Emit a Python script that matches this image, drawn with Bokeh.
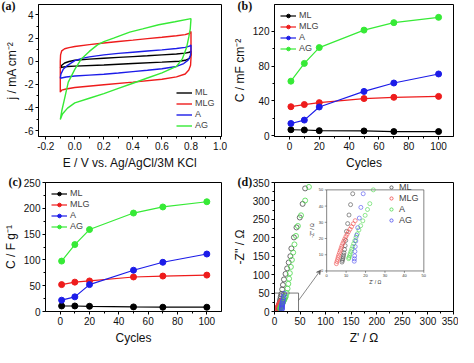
import math
from bokeh.plotting import figure
from bokeh.layouts import column, row
from bokeh.models import FixedTicker, Range1d, Title, Arrow, VeeHead
from bokeh.core.properties import value
from bokeh.embed import file_html
from bokeh.resources import INLINE

series = ["ML", "MLG", "A", "AG"]

# ---------------- (a) cyclic voltammograms ----------------
cv_ml_E = [-0.1, -0.09, -0.07, -0.04, 0.0, 0.1, 0.2, 0.3, 0.4, 0.5, 0.6, 0.7, 0.76, 0.79, 0.8,
           0.8, 0.79, 0.76, 0.72, 0.6, 0.4, 0.2, 0.0, -0.05, -0.09, -0.1]
cv_ml_j = [-0.59, -0.35, -0.15, -0.02, 0.08, 0.18, 0.26, 0.33, 0.4, 0.47, 0.55, 0.63, 0.7, 0.78, 0.88,
           0.55, 0.25, 0.08, 0.0, -0.08, -0.2, -0.32, -0.42, -0.46, -0.52, -0.59]
cv_mlg_E = [-0.1, -0.1, -0.1, -0.098, -0.09, -0.07, -0.04, 0.0, 0.1, 0.2, 0.3, 0.4, 0.5, 0.6, 0.7, 0.76, 0.79, 0.8,
            0.8, 0.8, 0.797, 0.785, 0.76, 0.7, 0.6, 0.4, 0.2, 0.0, -0.06, -0.09, -0.1]
cv_mlg_j = [-2.67, -1.5, 0.0, 0.55, 0.9, 1.08, 1.18, 1.27, 1.43, 1.57, 1.7, 1.82, 1.95, 2.07, 2.2, 2.3, 2.42, 2.57,
            1.5, 0.3, -0.35, -0.75, -1.1, -1.35, -1.55, -1.8, -2.03, -2.27, -2.4, -2.5, -2.67]
cv_a_E = [-0.1, -0.095, -0.08, -0.05, 0.0, 0.05, 0.1, 0.2, 0.3, 0.4, 0.5, 0.6, 0.7, 0.76, 0.79, 0.8,
          0.8, 0.795, 0.78, 0.75, 0.7, 0.6, 0.5, 0.4, 0.3, 0.2, 0.1, 0.0, -0.06, -0.1]
cv_a_j = [-1.47, -1.1, -0.7, -0.35, 0.05, 0.25, 0.38, 0.55, 0.68, 0.78, 0.88, 0.98, 1.1, 1.2, 1.3, 1.41,
          0.9, 0.45, 0.1, -0.2, -0.45, -0.65, -0.78, -0.9, -1.02, -1.12, -1.2, -1.28, -1.36, -1.47]
cv_ag_E = [-0.1, -0.09, -0.07, -0.045, 0.0, 0.045, 0.1, 0.156, 0.2, 0.267, 0.378, 0.467, 0.578, 0.689, 0.8,
           0.795, 0.785, 0.77, 0.74, 0.7, 0.6, 0.5, 0.4, 0.3, 0.2, 0.1, 0.0, -0.05, -0.085, -0.1]
cv_ag_j = [-5.04, -4.3, -3.2, -1.8, -0.7, 0.2, 0.85, 1.41, 1.7, 1.99, 2.52, 2.79, 3.15, 3.41, 3.68,
           2.8, 2.1, 1.2, 0.2, -0.45, -1.0, -1.45, -1.9, -2.35, -2.8, -3.2, -3.6, -4.05, -4.55, -5.04]

# ---------------- (b), (c) capacitance vs cycles ----------------
cycles = [1, 10, 20, 50, 70, 100]
b_ml = [6.8, 6.5, 5.7, 5.4, 4.7, 4.7]
b_mlg = [33.3, 35.8, 38.0, 42.7, 44.1, 45.2]
b_a = [14.0, 17.9, 33.0, 50.9, 60.6, 71.0]
b_ag = [62.7, 83.2, 101.4, 121.5, 130.1, 136.2]
c_ml = [10.7, 10.7, 10.1, 8.9, 8.3, 8.3]
c_mlg = [52.1, 56.9, 59.2, 66.9, 68.7, 70.5]
c_a = [21.9, 28.4, 52.1, 80.0, 95.4, 111.4]
c_ag = [97.7, 129.7, 158.8, 190.8, 202.6, 212.7]

# ---------------- (d) Nyquist ----------------
d_ml_x = [7.9, 8.1, 8.3, 8.5, 8.7, 8.9, 9.2, 9.5, 9.8, 10.2, 10.8, 11.5, 12.3, 13.4,
          15.0, 16.5, 18.5, 21.6, 24.7, 27.8, 31.0, 33.0, 38.0, 43.0, 49.4, 55.0, 59.9]
d_ml_y = [5.5, 6.5, 7.5, 8.6, 9.8, 11.2, 13.2, 15.6, 18.8, 24.4, 29.2, 34.5, 40.9, 47.6,
          60.0, 72.0, 87.0, 102.0, 117.0, 133.0, 150.0, 171.0, 201.0, 228.0, 255.0, 292.0, 334.0]
d_mlg_x = [5.0, 5.3, 5.6, 5.9, 6.2, 6.6, 7.0, 7.4, 7.8, 8.3, 8.8, 9.3, 9.9, 10.5, 11.2, 12.0, 12.8, 13.7, 14.7]
d_mlg_y = [4.5, 5.8, 7.1, 8.4, 9.7, 11.2, 12.6, 14.0, 15.4, 16.9, 18.3, 19.7, 21.2, 22.6, 24.1, 25.7, 27.3, 29.1, 31.0]
d_a_x = [11.3, 11.5, 11.8, 12.1, 12.5, 12.9, 13.4, 13.9, 14.5, 15.1, 15.8, 16.6, 17.5, 18.6, 19.8, 21.0, 22.2,
         24.0, 25.5, 27.0, 28.5, 30.0, 32.0, 34.0, 36.5, 39.0, 42.0, 45.7, 51.9, 59.9, 67.3]
d_a_y = [7.6, 8.3, 9.4, 10.6, 12.0, 13.5, 15.1, 16.8, 18.7, 20.7, 22.9, 25.3, 27.9, 30.9, 34.3, 37.9, 41.5,
         50.0, 62.0, 75.0, 89.0, 104.0, 121.0, 140.0, 160.0, 182.0, 205.0, 232.0, 261.0, 301.0, 338.0]
d_ag_x = [14.2, 14.3, 14.4, 14.55, 14.7, 15.0, 15.4, 16.0, 16.8, 17.6, 18.8]
d_ag_y = [6.0, 7.5, 9.3, 12.0, 15.0, 18.5, 22.0, 26.7, 32.6, 39.2, 47.6]

# ---------------- ticks ----------------
a_xticks = [-0.2, 0.0, 0.2, 0.4, 0.6, 0.8, 1.0]
a_xlabels = ["-0.2", "0.0", "0.2", "0.4", "0.6", "0.8", "1.0"]
a_yticks = [-6, -4, -2, 0, 2, 4]
a_ylabels = ["-6", "-4", "-2", "0", "2", "4"]
cyc_ticks = [0, 20, 40, 60, 80, 100]
cyc_labels = ["0", "20", "40", "60", "80", "100"]
b_yticks = [0, 40, 80, 120]
b_ylabels = ["0", "40", "80", "120"]
c_yticks = [0, 50, 100, 150, 200, 250]
c_ylabels = ["0", "50", "100", "150", "200", "250"]
d_ticks = [0, 50, 100, 150, 200, 250, 300, 350]
d_labels = ["0", "50", "100", "150", "200", "250", "300", "350"]
inset_ticks = [0, 10, 20, 30, 40, 50]
inset_labels = ["0", "10", "20", "30", "40", "50"]
zoom_box = [0, 47, 0, 50]  # left, right, bottom, top of the zoomed area

FONT = "Liberation Sans"
line_colors = ["#000000", "#ee1c1c", "#1c1ce8", "#36ea36"]
d_colors = ["#4a4a4a", "#ee4a4a", "#4ad84a", "#4a4aee"]


def base(width, height, xr, yr, bl, br, bt, bb):
    p = figure(width=width, height=height, x_range=Range1d(*xr), y_range=Range1d(*yr),
               output_backend="svg", toolbar_location=None,
               min_border_left=bl, min_border_right=br, min_border_top=bt, min_border_bottom=bb)
    p.grid.visible = False
    p.outline_line_color = "black"
    p.outline_line_width = 1
    p.background_fill_color = "white"
    p.border_fill_color = "white"
    return p


def style_axes(p, xt, xl, yt, yl, xlabel, ylabel):
    for ax, ticks, labels, lab in ((p.xaxis[0], xt, xl, xlabel), (p.yaxis[0], yt, yl, ylabel)):
        minor = [(a + b) / 2 for a, b in zip(ticks, ticks[1:])]
        ax.ticker = FixedTicker(ticks=ticks, minor_ticks=minor)
        ax.major_label_overrides = {t: s for t, s in zip(ticks, labels)}
        ax.axis_label = lab
        ax.axis_label_text_font = FONT
        ax.axis_label_text_font_size = "12px"
        ax.axis_label_text_font_style = "normal"
        ax.axis_label_text_color = "#111111"
        ax.axis_label_standoff = 3
        ax.major_label_text_font = FONT
        ax.major_label_text_font_size = "10px"
        ax.major_label_text_color = "#111111"
        ax.major_label_standoff = 2
        ax.major_tick_out = 3
        ax.major_tick_in = 0
        ax.minor_tick_out = 2
        ax.minor_tick_in = 0
        ax.axis_line_color = "black"
        ax.major_tick_line_color = "black"
        ax.minor_tick_line_color = "black"


def style_legend(p, loc, glyph_w=16, h=9):
    lg = p.legend[0]
    lg.location = loc
    lg.border_line_color = None
    lg.background_fill_alpha = 0
    lg.label_text_font = FONT
    lg.label_text_font_size = "9px"
    lg.label_height = h
    lg.glyph_height = h
    lg.glyph_width = glyph_w
    lg.spacing = 1
    lg.padding = 2
    lg.label_standoff = 3
    lg.margin = 6


def tag(p, text, standoff):
    p.add_layout(Title(text=text, align="left", vertical_align="bottom", offset=-37, standoff=standoff,
                       text_font="Liberation Serif", text_font_style="bold", text_font_size="12px",
                       text_color="#111111"), "above")


# ---------------- panel (a) ----------------
pa = base(229, 172, (-0.25, 1.01), (-6.5, 4.9), 38, 8, 4, 36)
for E, j, c, name in zip([cv_ml_E, cv_mlg_E, cv_a_E, cv_ag_E], [cv_ml_j, cv_mlg_j, cv_a_j, cv_ag_j],
                         line_colors, series):
    pa.line(E, j, line_color=c, line_width=1.4, legend_label=name)
style_axes(pa, a_xticks, a_xlabels, a_yticks, a_ylabels, "E / V vs. Ag/AgCl/3M KCl", "j / mA cm⁻²")
style_legend(pa, "bottom_right")
tag(pa, "(a)", -16)

# ---------------- panel (b) ----------------
pb = base(229, 172, (-10, 110), (-1, 151), 40, 5, 4, 36)
for ys, c, name in zip([b_ml, b_mlg, b_a, b_ag], line_colors, series):
    pb.line(cycles, ys, line_color=c, line_width=1.2, legend_label=name)
    pb.scatter(cycles, ys, size=6, fill_color=c, line_color=c, legend_label=name)
style_axes(pb, cyc_ticks, cyc_labels, b_yticks, b_ylabels, "Cycles", "C / mF cm⁻²")
style_legend(pb, "top_left")
tag(pb, "(b)", -16)

# ---------------- panel (c) ----------------
pc = base(229, 175, (-10, 110), (0, 250), 38, 8, 10, 33)
for ys, c, name in zip([c_ml, c_mlg, c_a, c_ag], line_colors, series):
    pc.line(cycles, ys, line_color=c, line_width=1.2, legend_label=name)
    pc.scatter(cycles, ys, size=6, fill_color=c, line_color=c, legend_label=name)
style_axes(pc, cyc_ticks, cyc_labels, c_yticks, c_ylabels, "Cycles", "C / F g⁻¹")
style_legend(pc, "top_left")
tag(pc, "(c)", -12)

# ---------------- panel (d) ----------------
pdd = base(229, 175, (0, 350), (0, 350), 40, 5, 10, 33)
for xs, ys, c, name in zip([d_ml_x, d_mlg_x, d_a_x, d_ag_x], [d_ml_y, d_mlg_y, d_a_y, d_ag_y], d_colors, series):
    pdd.scatter(xs, ys, marker="circle", size=5, fill_color=None, line_color=c, line_width=0.8,
                legend_label=name)
style_axes(pdd, d_ticks, d_labels, d_ticks, d_labels, "Z' / Ω", "-Z'' / Ω")
style_legend(pdd, (112, 86), glyph_w=10, h=8)
tag(pdd, "(d)", -12)

# zoom box and arrow
pdd.quad(left=[zoom_box[0]], right=[zoom_box[1]], bottom=[zoom_box[2]], top=[zoom_box[3]],
         fill_color=None, line_color="#555555", line_width=0.8)
pdd.add_layout(Arrow(x_start=zoom_box[1], y_start=30, x_end=90, y_end=112,
                     line_color="#555555", line_width=0.7,
                     end=VeeHead(size=4, line_color="#555555", line_width=0.7, fill_color="#555555")))

# inset
sub = pdd.subplot(x_source=Range1d(inset_ticks[0], inset_ticks[-1]),
                  y_source=Range1d(inset_ticks[0], inset_ticks[-1]),
                  x_target=Range1d(102, 292), y_target=Range1d(110, 330))
sub.quad(left=[inset_ticks[0]], right=[inset_ticks[-1]], bottom=[inset_ticks[0]], top=[inset_ticks[-1]],
         fill_color="white", line_color="#333333", line_width=0.6)
n = len(inset_ticks)
sub.segment(x0=inset_ticks, y0=[0] * n, x1=inset_ticks, y1=[-1.2] * n, line_color="#333333", line_width=0.5)
sub.segment(x0=[0] * n, y0=inset_ticks, x1=[-1.0] * n, y1=inset_ticks, line_color="#333333", line_width=0.5)
sub.text(x=inset_ticks, y=[-2.0] * n, text=inset_labels, text_font=value(FONT), text_font_size="4px",
         text_align="center", text_baseline="top", text_color="#333333")
sub.text(x=[-1.8] * n, y=inset_ticks, text=inset_labels, text_font=value(FONT), text_font_size="4px",
         text_align="right", text_baseline="middle", text_color="#333333")
sub.text(x=[25], y=[-5.2], text=["Z' / Ω"], text_font=value(FONT), text_font_size="5px",
         text_align="center", text_baseline="top", text_color="#333333")
sub.text(x=[-6.0], y=[25], text=["-Z'' / Ω"], angle=math.pi / 2, text_font=value(FONT), text_font_size="5px",
         text_align="center", text_baseline="bottom", text_color="#333333")
for xs, ys, c in zip([d_ml_x, d_mlg_x, d_a_x, d_ag_x], [d_ml_y, d_mlg_y, d_a_y, d_ag_y], d_colors):
    xi = [x for x, y in zip(xs, ys) if x <= inset_ticks[-1] and y <= inset_ticks[-1]]
    yi = [y for x, y in zip(xs, ys) if x <= inset_ticks[-1] and y <= inset_ticks[-1]]
    sub.scatter(xi, yi, marker="circle", size=4, fill_color=None, line_color=c, line_width=0.6)

layout = column(row(pa, pb), row(pc, pdd))
open("out.html", "w").write(file_html(layout, INLINE))
